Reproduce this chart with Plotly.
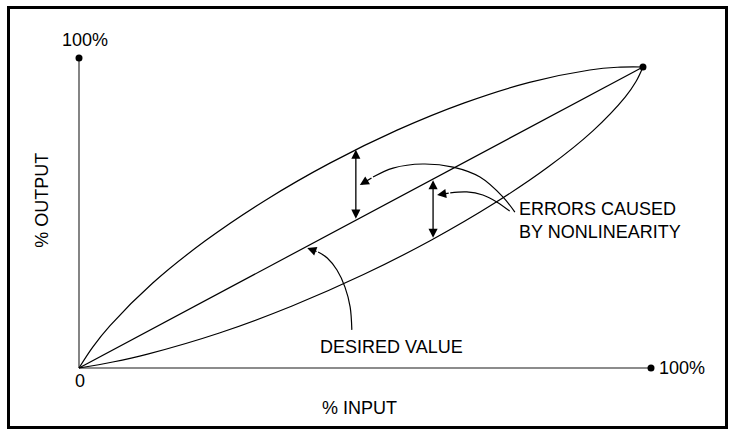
import plotly.graph_objects as go

# ---- data (percent input / percent output) ----
upper_x = [0, 2.40, 5.39, 12.89, 22.08, 32.54, 43.86, 55.61, 67.38, 78.75, 89.29, 94.13, 98.6]
upper_y = [0, 6.75, 13.60, 27.41, 41.03, 54.06, 66.09, 76.72, 85.53, 92.14, 96.13, 97.02, 97.1]

lower_x = [0, 5.90, 11.99, 24.54, 37.25, 49.74, 61.63, 72.53, 82.06, 89.84, 95.48, 97.38, 98.6]
lower_y = [0, 1.93, 4.49, 11.30, 20.00, 30.14, 41.29, 53.03, 64.90, 76.50, 87.38, 92.41, 97.1]

desired_x = [0, 98.6]
desired_y = [0, 97.1]

axis_end = 100

# error arrows: (x, y_from, y_to)
error1 = (48.4, 70.4, 47.7)
error2 = (61.9, 60.6, 41.5)

# leader curves
lead1_x = [76.2, 74.1, 70.1, 65.4, 60.1, 54.9, 51.4, 49.1]
lead1_y = [50.3, 55.2, 61.6, 64.8, 65.8, 64.5, 61.6, 59.0]
lead2_x = [75.3, 73.1, 70.6, 67.8, 64.9, 62.6]
lead2_y = [50.6, 53.5, 55.8, 56.8, 56.5, 55.8]
lead3_x = [47.7, 47.4, 46.5, 45.1, 43.4, 41.8, 39.9]
lead3_y = [12.3, 19.7, 26.1, 31.6, 35.5, 37.4, 38.7]

FONT = "Liberation Sans, Arial, sans-serif"

fig = go.Figure()

# axes
fig.add_trace(go.Scatter(x=[0, 0], y=[0, axis_end], mode="lines",
                         line=dict(color="#666666", width=1.6), hoverinfo="skip"))
fig.add_trace(go.Scatter(x=[0, axis_end], y=[0, 0], mode="lines",
                         line=dict(color="#666666", width=1.6), hoverinfo="skip"))

# curves
fig.add_trace(go.Scatter(x=upper_x, y=upper_y, mode="lines",
                         line=dict(color="black", width=1.2, shape="spline", smoothing=1)))
fig.add_trace(go.Scatter(x=lower_x, y=lower_y, mode="lines",
                         line=dict(color="black", width=1.2, shape="spline", smoothing=1)))
fig.add_trace(go.Scatter(x=desired_x, y=desired_y, mode="lines",
                         line=dict(color="black", width=1.2)))

# leader curves
for lx, ly in [(lead1_x, lead1_y), (lead2_x, lead2_y), (lead3_x, lead3_y)]:
    fig.add_trace(go.Scatter(x=lx[:-1], y=ly[:-1], mode="lines",
                             line=dict(color="black", width=1.2, shape="spline", smoothing=1)))

# dots
fig.add_trace(go.Scatter(x=[0, axis_end, desired_x[-1]], y=[axis_end, 0, desired_y[-1]],
                         mode="markers", marker=dict(color="black", size=7)))

# double-headed error arrows
for ex, ya, yb in [error1, error2]:
    fig.add_annotation(x=ex, y=ya, ax=ex, ay=yb, axref="x", ayref="y", xref="x", yref="y",
                       text="", showarrow=True, arrowhead=2, arrowside="end+start",
                       arrowsize=1.4, arrowwidth=1.3, arrowcolor="black")

# leader arrow heads
for lx, ly in [(lead1_x, lead1_y), (lead2_x, lead2_y), (lead3_x, lead3_y)]:
    fig.add_annotation(x=lx[-1], y=ly[-1], ax=lx[-2], ay=ly[-2], axref="x", ayref="y",
                       xref="x", yref="y", text="", showarrow=True, arrowhead=2,
                       arrowsize=1.4, arrowwidth=1.3, arrowcolor="black")

# texts
def txt(x, y, s, xanchor="center", align="center", angle=0):
    fig.add_annotation(x=x, y=y, xref="x", yref="y", text=s, showarrow=False,
                       xanchor=xanchor, yanchor="middle", align=align, textangle=angle,
                       font=dict(family=FONT, size=18, color="black"))

txt(1.05, 105.8, "100%")
txt(101.0, 0, "100%", xanchor="left")
txt(0.2, -4.2, "0")
txt(49.1, -12.9, "% INPUT")
txt(-6.5, 54.2, "% OUTPUT", angle=-90)
txt(76.5, 47.7, "ERRORS CAUSED<br>BY NONLINEARITY", xanchor="left", align="left")
txt(54.7, 6.8, "DESIRED VALUE")

# frame
W, H = 742, 437
fig.add_shape(type="rect", xref="paper", yref="paper",
              x0=8.5 / W, x1=726.5 / W, y0=1 - 427.5 / H, y1=1 - 7.5 / H,
              line=dict(color="black", width=3))

fig.update_layout(
    width=W, height=H, margin=dict(l=0, r=0, t=0, b=0),
    paper_bgcolor="white", plot_bgcolor="white", showlegend=False,
    xaxis=dict(range=[-79 / 5.72, (W - 79) / 5.72], visible=False, fixedrange=True),
    yaxis=dict(range=[(368 - H) / 3.1, 368 / 3.1], visible=False, fixedrange=True),
)

fig.write_html("out.html", config={"displayModeBar": False},
               post_script="document.body.style.margin='0';document.body.style.overflow='hidden';")
